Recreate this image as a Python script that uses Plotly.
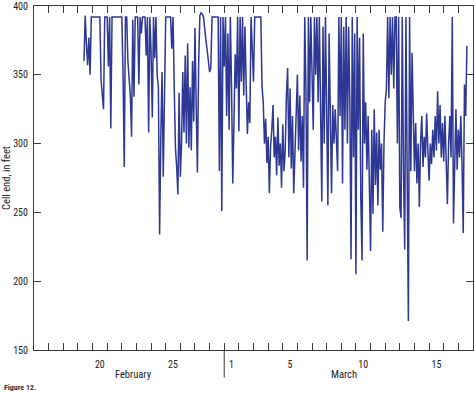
import pandas as pd
import plotly.graph_objects as go

# Cell end values (feet) at ~2-hour spacing starting Feb 19 10:00
cell_end = [
    360, 393, 372, 357, 377, 350,
    392, 392, 392, 392, 392, 392, 392, 392,
    346, 332, 325, 392,
    392, 392,
    356, 392, 311,
    392, 392, 392, 392, 392, 392, 392, 392, 392,
    352, 283,
    392, 392, 360,
    348, 335, 305, 390, 334,
    392, 392, 392, 343,
    392, 380, 392, 392,
    392, 364, 392, 308, 392, 367, 319, 392, 362,
    392, 350, 341,
    234,
    305, 352, 276, 330,
    392, 392, 392, 392, 392, 369, 392,
    340, 297, 283, 263, 337, 276, 300,
    352, 308, 364, 300, 373, 297, 341, 295, 360, 316, 384,
    328, 279, 357,
    393, 395, 394, 392,
    381, 375, 368, 360, 352,
    355,
    392, 392, 392, 392, 392, 392,
    280, 392, 251,
    392, 356, 392, 320, 380, 310, 392, 340, 271,
    317, 365, 340,
    392, 309, 392, 345, 392, 335, 385,
    343, 307, 330, 315,
    392, 371, 345, 392, 392, 392, 392, 392,
    392, 341,
    330, 300, 318, 286, 305, 264, 298, 310,
    328, 290, 305, 277, 319, 284, 300, 268, 314, 280, 295,
    335, 355, 290, 340, 282, 320,
    264, 300,
    330, 350, 295, 335, 287, 320, 268,
    392, 340,
    215,
    392, 330, 392, 345,
    310, 392, 350, 392, 330,
    392, 330, 258, 385, 300, 392, 320, 255, 380, 310, 264,
    328, 300, 325, 295,
    280, 392, 320, 392, 271, 385, 310,
    392, 300, 385, 330, 216, 392, 290, 380, 205, 392, 310, 377, 260, 215, 380, 300,
    330, 281, 320, 260, 222, 310, 249, 325, 270, 308, 255,
    310, 281, 300, 236,
    300, 330, 340,
    392, 333, 392, 350, 392, 340, 392,
    392, 300, 392, 254, 246, 392, 280, 223, 392, 260,
    171, 392,
    280, 366,
    322, 280, 315, 271, 300, 254,
    300, 320, 283, 305, 290, 322, 295, 273, 300, 285, 310, 290, 320, 295, 338,
    300, 328, 290, 315, 287, 320, 295, 256,
    300, 320, 290,
    392,
    242,
    300, 325, 281, 310, 290, 320, 285,
    235,
    343, 320, 371,
]
series_start = "2001-02-19 10:00"
series_step = "2h"

y_ticks = [150, 200, 250, 300, 350, 400]
day_label_dates = ["2001-02-20", "2001-02-25", "2001-03-01", "2001-03-05", "2001-03-10", "2001-03-15"]
day_label_text = ["20", "25", "1", "5", "10", "15"]
month_names = ["February", "March"]
month_dates = ["2001-02-22 19:00", "2001-03-09 05:00"]

times = pd.date_range(series_start, periods=len(cell_end), freq=series_step)
label_pos = [pd.Timestamp(d) + pd.Timedelta(hours=12) for d in day_label_dates]
midnights = pd.date_range("2001-02-17", "2001-03-17", freq="D")

FONT = "Liberation Sans Narrow, Roboto Condensed, DejaVu Sans Condensed, Arial Narrow, sans-serif"
AX = "#3a3a3a"

fig = go.Figure()
fig.add_trace(go.Scatter(x=times, y=cell_end, mode="lines",
                         line=dict(color="#2d3794", width=1.5), hoverinfo="skip",
                         showlegend=False))

fig.update_layout(
    width=474, height=395,
    margin=dict(l=34, r=1, t=6, b=45),
    paper_bgcolor="white", plot_bgcolor="white",
    font=dict(family=FONT, size=10, color="#222"),
    xaxis=dict(
        type="date", range=["2001-02-16", "2001-03-18"], automargin=False,
        tickmode="array", tickvals=label_pos, ticktext=day_label_text,
        ticks="", showgrid=False, zeroline=False,
        showline=True, linecolor=AX, linewidth=1, mirror="ticks",
        ticklabelstandoff=5,
        minor=dict(tickmode="array", tickvals=list(midnights), ticks="inside",
                   ticklen=7, tickcolor=AX, tickwidth=1, showgrid=False),
    ),
    yaxis=dict(
        range=[150, 400], tickmode="array", tickvals=y_ticks, automargin=False,
        ticks="inside", ticklen=7, tickcolor=AX, tickwidth=1,
        showline=True, linecolor=AX, linewidth=1, mirror="ticks",
        showgrid=False, zeroline=False, ticklabelstandoff=3,
        ticklabeloverflow="allow",
        title=dict(text="Cell end, in feet", font=dict(size=10.5), standoff=4),
    ),
)

# March 1 divider below axis
fig.add_shape(type="line", xref="x", yref="paper", x0="2001-03-01", x1="2001-03-01",
              y0=0, y1=-0.08, line=dict(color=AX, width=1))

for name, d in zip(month_names, month_dates):
    fig.add_annotation(x=d, y=-0.072, xref="x", yref="paper", text=name,
                       showarrow=False, font=dict(size=10.5, color="#222"),
                       xanchor="center", yanchor="middle")

fig.add_annotation(x=0.0, y=-0.128, xref="paper", yref="paper", xshift=-32,
                   text="<b>Figure 12.</b>", showarrow=False,
                   font=dict(size=8, color="#333"), xanchor="left", yanchor="bottom")

fig.write_html("out.html", config={"displayModeBar": False},
               post_script="document.body.style.margin='0';document.body.style.overflow='hidden';")
